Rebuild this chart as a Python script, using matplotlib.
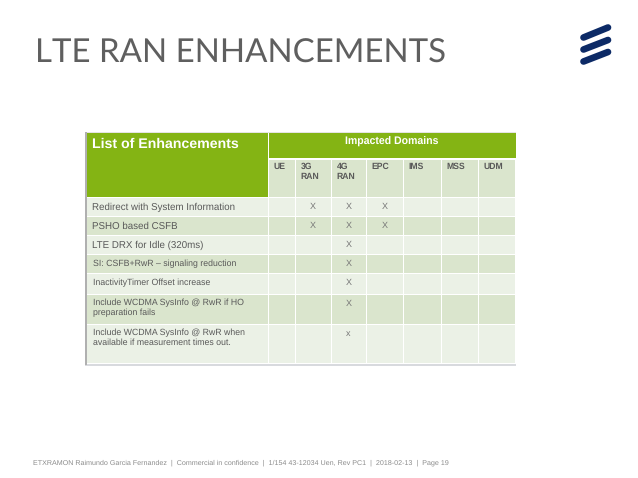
import matplotlib
matplotlib.use('Agg')
from matplotlib import pyplot as plt
from matplotlib.patches import Rectangle

plt.rcParams['font.family'] = ['Liberation Sans', 'DejaVu Sans']
plt.rcParams['text.hinting'] = 'no_hinting'
plt.rcParams['text.hinting_factor'] = 8

title = 'LTE RAN ENHANCEMENTS'
footer = ('ETXRAMON Raimundo Garcia Fernandez  |  Commercial in confidence  |  '
          '1/154 43-12034 Uen, Rev PC1  |  2018-02-13  |  Page 19')
list_head = 'List of Enhancements'
domain_head = 'Impacted Domains'
domains = ['UE', '3G\nRAN', '4G\nRAN', 'EPC', 'IMS', 'MSS', 'UDM']
enhancements = ['Redirect with System Information',
                'PSHO based CSFB',
                'LTE DRX for Idle (320ms)',
                'SI: CSFB+RwR \u2013 signaling reduction',
                'InactivityTimer Offset increase',
                'Include WCDMA SysInfo @ RwR if HO\npreparation fails',
                'Include WCDMA SysInfo @ RwR when\navailable if measurement times out.']
# marks per row, same order as domains
marks = [['', 'X', 'X', 'X', '', '', ''],
         ['', 'X', 'X', 'X', '', '', ''],
         ['', '', 'X', '', '', '', ''],
         ['', '', 'X', '', '', '', ''],
         ['', '', 'X', '', '', '', ''],
         ['', '', 'X', '', '', '', ''],
         ['', '', 'x', '', '', '', '']]

# layout in pixels
col_edges = [269, 296, 332, 367, 404, 442, 479, 516]
row_edges = [198, 217, 236, 255, 274, 295, 325, 364]

green = '#84b414'
band_dark = '#dae5cd'
band_light = '#ebf1e6'
text_grey = '#595959'

fig = plt.figure(figsize=(6.38, 4.78), dpi=100)
ax = fig.add_axes([0, 0, 1, 1])
ax.set_xlim(0, 638)
ax.set_ylim(478, 0)
ax.axis('off')


def box(x0, y0, x1, y1, color):
    ax.add_patch(Rectangle((x0, y0), x1 - x0, y1 - y0, fc=color, ec='none'))


# shadow round the table
box(86, 131.5, 516, 133, '#e4e4e4')
box(85, 364, 516, 366, '#d8dade')
box(84.5, 132, 87, 365, '#b0b0b0')

# header
box(87, 133, 268, 197, green)
box(269, 133, 516, 158, green)
ax.text(92, 144, list_head, color='white', fontsize=10.2, fontweight='bold', va='center')
ax.text(392, 142, domain_head, color='white', fontsize=7.6, fontweight='bold', ha='center', va='center')

for i, name in enumerate(domains):
    box(col_edges[i], 160, col_edges[i + 1] - 1, 197, band_dark)
    ax.text(col_edges[i] + 4.5, 162.5, name, color=text_grey, fontsize=6.2, fontweight='bold',
            va='top', linespacing=1.25)

# rows
for r, name in enumerate(enhancements):
    top = row_edges[r]
    bottom = row_edges[r + 1] - 1
    color = band_dark if r % 2 else band_light
    box(87, top, 268, bottom, color)
    for c in range(len(domains)):
        box(col_edges[c], top, col_edges[c + 1] - 1, bottom, color)
        if marks[r][c]:
            ax.text((col_edges[c] + col_edges[c + 1]) / 2 - 1, top + 8.5, marks[r][c], color='#777777',
                    fontsize=6.5, ha='center', va='center')
    if r < 3:
        ax.text(91.5, (top + bottom) / 2 + 0.5, name, color=text_grey, fontsize=7.0, va='center')
    else:
        ax.text(93, top + 9 if '\n' not in name else top + 3.5, name, color=text_grey, fontsize=6.3,
                va='center' if '\n' not in name else 'top', linespacing=1.25)

ax.text(35, 53, title, color='#5f5f5f', fontsize=23.8, family=['Lato', 'DejaVu Sans'],
        va='center')
ax.text(33, 463, footer, color='#8c8c8c', fontsize=5.15, va='center')

# logo
for y0, y1 in [(37.5, 27.5), (49.5, 40), (61.5, 52)]:
    ax.plot([583.5, 608], [y0, y1], color='#0c2a66', lw=4.8, solid_capstyle='round')

fig.savefig('out.png', dpi=100)
